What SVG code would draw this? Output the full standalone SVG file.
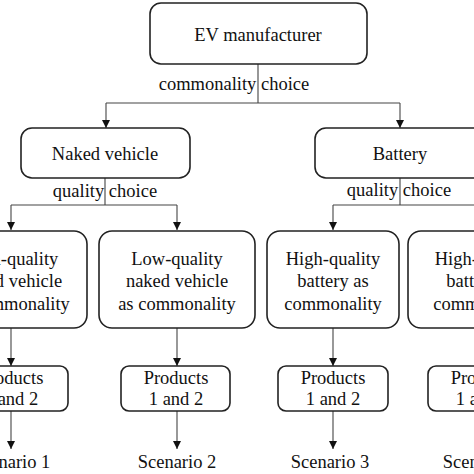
<svg xmlns="http://www.w3.org/2000/svg" width="474" height="474" viewBox="0 0 474 474">
<defs>
<style>
.box{fill:#fff;stroke:#222;stroke-width:1.6}
.t{font-family:'Liberation Serif','Times New Roman','DejaVu Serif',serif;font-size:18.5px;fill:#111;text-anchor:middle}
.c{fill:none;stroke:#444;stroke-width:1.1}
</style>
<marker id="ah" viewBox="0 0 10 10" refX="10" refY="5" markerWidth="8" markerHeight="10" markerUnits="userSpaceOnUse" orient="auto">
<path d="M0,0 L10,5 L0,10 Z" fill="#111"/>
</marker>
</defs>
<rect width="474" height="474" fill="#fff"/>
<g id="connectors" font-family="Liberation Serif, serif">
<path class="c" d="M258,64 V103 M106,103 H400"/>
<path class="c" d="M106,103 V128" marker-end="url(#ah)"/>
<path class="c" d="M400,103 V128" marker-end="url(#ah)"/>
<path class="c" d="M105,178 V205 M11,205 H177 M400,178 V205 M333,205 H474"/>
<path class="c" d="M11,205 V230" marker-end="url(#ah)"/>
<path class="c" d="M177,205 V230" marker-end="url(#ah)"/>
<path class="c" d="M333,205 V230" marker-end="url(#ah)"/>
<path class="c" d="M11,328 V366" marker-end="url(#ah)"/>
<path class="c" d="M177,328 V366" marker-end="url(#ah)"/>
<path class="c" d="M333,328 V366" marker-end="url(#ah)"/>
<path class="c" d="M11,411 V449" marker-end="url(#ah)"/>
<path class="c" d="M177,411 V449" marker-end="url(#ah)"/>
<path class="c" d="M333,411 V449" marker-end="url(#ah)"/>
<text class="t" x="234" y="90">commonality choice</text>
<text class="t" x="105" y="197">quality choice</text>
<text class="t" x="399" y="196">quality choice</text>
</g>
<g id="ev">
<rect class="box" x="150" y="3" width="217" height="61" rx="11"/>
<text class="t" x="258" y="41">EV manufacturer</text>
</g>
<g id="naked">
<rect class="box" x="21" y="128" width="169" height="50" rx="11"/>
<text class="t" x="105" y="160">Naked vehicle</text>
</g>
<g id="battery">
<rect class="box" x="315" y="128" width="170" height="50" rx="11"/>
<text class="t" x="400" y="160">Battery</text>
</g>
<g id="hq-naked">
<rect class="box" x="-65" y="231" width="152" height="97" rx="13"/>
<text class="t" x="11" y="265">High-quality</text>
<text class="t" x="11" y="287">naked vehicle</text>
<text class="t" x="11" y="310">as commonality</text>
</g>
<g id="lq-naked">
<rect class="box" x="99" y="231" width="156" height="97" rx="13"/>
<text class="t" x="177" y="265">Low-quality</text>
<text class="t" x="177" y="287">naked vehicle</text>
<text class="t" x="177" y="310">as commonality</text>
</g>
<g id="hq-battery">
<rect class="box" x="267" y="231" width="132" height="97" rx="13"/>
<text class="t" x="333" y="265">High-quality</text>
<text class="t" x="333" y="287">battery as</text>
<text class="t" x="333" y="310">commonality</text>
</g>
<g id="hq-battery2">
<rect class="box" x="408" y="231" width="148" height="97" rx="13"/>
<text class="t" x="482" y="265">High-quality</text>
<text class="t" x="482" y="287">battery as</text>
<text class="t" x="482" y="310">commonality</text>
</g>
<g id="prod1">
<rect class="box" x="-46" y="366" width="114" height="45" rx="8"/>
<text class="t" x="11" y="384">Products</text>
<text class="t" x="11" y="405">1 and 2</text>
</g>
<g id="prod2">
<rect class="box" x="121" y="366" width="109" height="45" rx="8"/>
<text class="t" x="176" y="384">Products</text>
<text class="t" x="176" y="405">1 and 2</text>
</g>
<g id="prod3">
<rect class="box" x="278" y="366" width="110" height="45" rx="8"/>
<text class="t" x="333" y="384">Products</text>
<text class="t" x="333" y="405">1 and 2</text>
</g>
<g id="prod4">
<rect class="box" x="428" y="366" width="110" height="45" rx="8"/>
<text class="t" x="483" y="384">Products</text>
<text class="t" x="483" y="405">1 and 2</text>
</g>
<g id="scenarios">
<text class="t" x="11" y="468">Scenario 1</text>
<text class="t" x="177" y="468">Scenario 2</text>
<text class="t" x="330" y="468">Scenario 3</text>
<text class="t" x="482" y="468">Scenario 4</text>
</g>
</svg>
